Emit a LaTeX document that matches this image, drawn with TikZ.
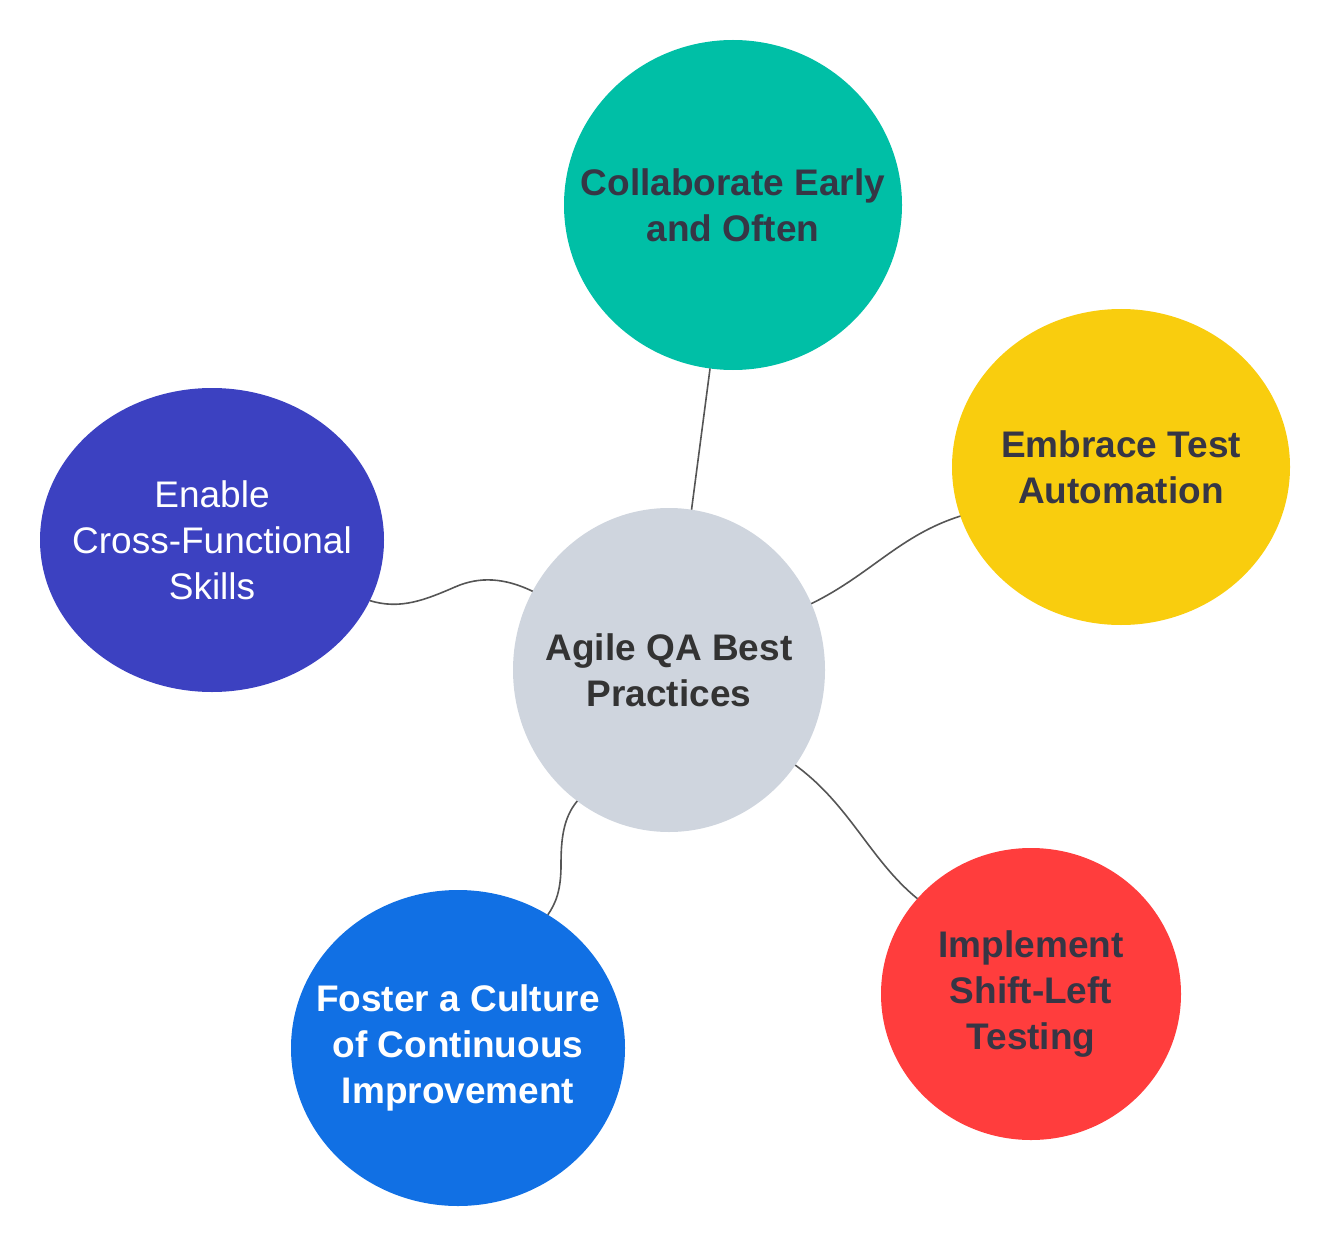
\documentclass[tikz,border=0pt]{standalone}
\usepackage{fontspec}
\setmainfont{Liberation Sans}
\usetikzlibrary{shapes.geometric}
\definecolor{cgray}{HTML}{CFD5DE}
\definecolor{cteal}{HTML}{00BFA6}
\definecolor{cyellow}{HTML}{F9CD0E}
\definecolor{cindigo}{HTML}{3C41C1}
\definecolor{cred}{HTML}{FF3D3D}
\definecolor{cblue}{HTML}{1170E4}
\definecolor{tdark}{HTML}{363645}
\definecolor{linkc}{HTML}{555555}
\begin{document}
\begin{tikzpicture}[x=1pt,y=-1pt,
  bubble/.style={ellipse,inner sep=0pt,outer sep=0pt},
  lbl/.style={align=center,font=\fontsize{37}{46}\selectfont\bfseries,text=tdark,inner sep=0pt},
  link/.style={draw=linkc,line width=1.6pt}]
\useasboundingbox (0,0) rectangle (1332,1246);
\node[bubble,fill=cgray,minimum width=312pt,minimum height=324pt] (c) at (669,670) {};
\node[lbl,text=black!80] (cl) at (c) {Agile QA Best\\Practices};
\node[bubble,fill=cteal,minimum width=338pt,minimum height=330pt] (t) at (733,205) {};
\node[lbl] (tl) at (t) {Collaborate Early\\and Often};
\node[bubble,fill=cyellow,minimum width=338pt,minimum height=316pt] (r) at (1121,467) {};
\node[lbl] (rl) at (r) {Embrace Test\\Automation};
\node[bubble,fill=cindigo,minimum width=344pt,minimum height=304pt] (l) at (212,540) {};
\node[lbl,text=white,font=\fontsize{37}{46}\selectfont] (ll) at (l) {Enable\\Cross-Functional\\Skills};
\node[bubble,fill=cred,minimum width=300pt,minimum height=292pt] (br) at (1031,994) {};
\node[lbl] (brl) at (br) {Implement\\Shift-Left\\Testing};
\node[bubble,fill=cblue,minimum width=334pt,minimum height=316pt] (bl) at (458,1048) {};
\node[lbl,text=white] (bll) at (bl) {Foster a Culture\\of Continuous\\Improvement};
% connectors
\draw[link] (c.82) -- (t.262);
\draw[link] (c.25.6) .. controls (870,575) and (900,535) .. (r.197.5);
\draw[link] (c.150) .. controls (505,578) and (480,576) .. (455,587) .. controls (425,600) and (400,610) .. (l.-21);
\draw[link] (c.-37.8) .. controls (850,805) and (870,860) .. (br.140.7);
\draw[link] (c.-125.6) .. controls (563,818) and (561,840) .. (561,865) .. controls (561,890) and (556,903) .. (bl.56);
\end{tikzpicture}
\end{document}
